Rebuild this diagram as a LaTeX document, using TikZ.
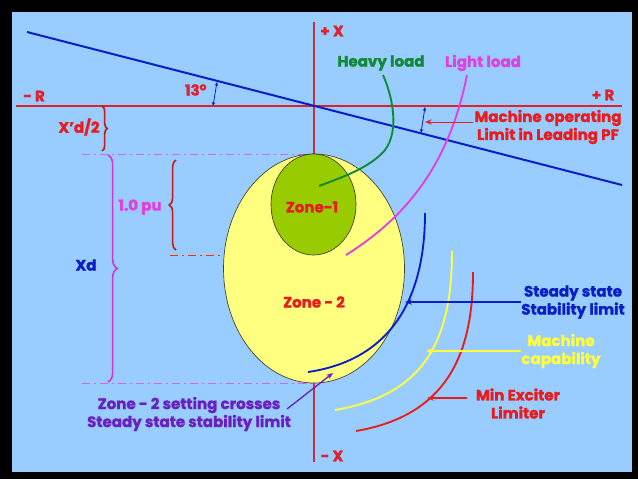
\documentclass[tikz,border=0pt]{standalone}
\usepackage{fontspec}
\setmainfont{Poppins}[BoldFeatures={FakeBold=1.5}]
\usetikzlibrary{decorations.pathreplacing,arrows.meta,shapes.geometric}
\definecolor{panel}{HTML}{99CCFF}
\definecolor{axR}{HTML}{E0202A}
\definecolor{axX}{HTML}{C03040}
\definecolor{lblue}{HTML}{0A1EC8}
\definecolor{hgreen}{HTML}{118833}
\definecolor{lmag}{HTML}{E040E0}
\definecolor{tred}{HTML}{E81C1C}
\definecolor{zyel}{HTML}{FFFF80}
\definecolor{zgreen}{HTML}{99CC00}
\definecolor{cyel}{HTML}{FFFF40}
\definecolor{tpurp}{HTML}{6A1FC0}
\definecolor{dviol}{HTML}{CC66FF}
\begin{document}
\begin{tikzpicture}[x=0.75pt,y=-0.75pt,
  font=\bfseries\fontsize{11.3}{13.5}\selectfont,
  lbl/.style={inner sep=0pt,align=center},
  curve/.style={line width=1.4pt},
  tip/.style={-{Stealth[length=5pt,width=4pt]},line width=1pt},
  dim/.style={{Stealth[length=3pt,width=2.5pt]}-{Stealth[length=3pt,width=2.5pt]},line width=0.6pt,lblue},
  ddash/.style={line width=0.7pt,dash pattern=on 6pt off 3pt on 1.5pt off 3pt},
  brc/.style={decorate,line width=1.2pt}]
\useasboundingbox (0,0) rectangle (638,479);
\fill[black] (0,0) rectangle (638,479);
\fill[panel] (12,12) rectangle (632,472);

% axes
\coordinate (xt) at (314,22);
\coordinate (xb) at (314,462);
\coordinate (rl) at (16,106);
\coordinate (rr) at (622,106);
\draw[axX,line width=1pt] (xt) -- (xb);
\draw[axR,line width=1.3pt] (rl) -- (rr);

% leading PF limit line
\coordinate (bl1) at (27,32);
\coordinate (bl2) at (622,185);
\draw[lblue,line width=1.5pt] (bl1) -- (bl2);

% dash-dot guides
\coordinate (d1a) at (82,154); \coordinate (d1b) at (312,154);
\coordinate (d2a) at (170,255); \coordinate (d2b) at (312,255);
\coordinate (d3a) at (82,383); \coordinate (d3b) at (314,383);
\draw[ddash,dviol] (d1a) -- (d1b);
\draw[ddash,tred!80!orange] (d2a) -- (d2b);
\draw[ddash,dviol] (d3a) -- (d3b);

% zones
\node[draw=black!70!olive,line width=0.5pt,fill=zyel,ellipse,minimum width=135.75pt,minimum height=171.75pt,inner sep=0pt] (z2) at (314,268.5) {};
\node[draw=black!70!olive,line width=0.5pt,fill=zgreen,ellipse,minimum width=63.75pt,minimum height=75.75pt,inner sep=0pt] (z1) at (313.5,204.5) {};
\node[lbl,tred] (z1t) at (312,207) {Zone-1};
\node[lbl,tred] (z2t) at (314,302) {Zone - 2};

% labels
\node[lbl,axR] (px) at (332,31) {+ X};
\node[lbl,axR] (mx) at (332,456) {- X};
\node[lbl,axR] (mr) at (34,96) {- R};
\node[lbl,axR] (pr) at (603,95) {+ R};
\node[lbl,axR] (ang) at (196,90) {13\textsuperscript{o}};
\node[lbl,tred] (xdh) at (79,127) {X’d/2};
\node[lbl,lmag] (pu) at (140,207) {1.0 pu};
\node[lbl,lblue] (xd) at (86,265) {Xd};
\node[lbl,hgreen] (hl) at (381,63) {Heavy load};
\node[lbl,lmag] (ll) at (483,63) {Light load};
\node[lbl,tred] (mol) at (548,127) {Machine operating\\Limit in Leading PF};
\node[lbl,lblue] (ssl) at (573,302) {Steady state\\Stability limit};
\node[lbl,cyel] (mc) at (561,351) {Machine\\capability};
\node[lbl,tred] (mel) at (518,403.5) {Min Exciter\\Limiter};
\node[lbl,tpurp] (zs) at (189,414) {Zone - 2 setting crosses\\Steady state stability limit};

% braces
\coordinate (b1a) at (102,106); \coordinate (b1b) at (102,151);
\coordinate (b2a) at (108,155); \coordinate (b2b) at (108,382);
\coordinate (b3a) at (176,250); \coordinate (b3b) at (176,160);
\draw[brc,tred!85!black,decoration={brace,amplitude=4pt}] (b1a) -- (b1b);
\draw[brc,lmag!85!violet,decoration={brace,amplitude=7pt}] (b2a) -- (b2b);
\draw[brc,tred!85!black,decoration={brace,amplitude=5pt}] (b3a) -- (b3b);

% angle dimension arrows
\coordinate (a1a) at (217,82); \coordinate (a1b) at (213,106);
\coordinate (a2a) at (425,107); \coordinate (a2b) at (421,133);
\draw[dim] (a1a) -- (a1b);
\draw[dim] (a2a) -- (a2b);

% load curves
\coordinate (hle) at (319,186);
\coordinate (lle) at (346,255);
\draw[curve,hgreen] (383,75) .. controls (392,95) and (400,130) .. (385,150) .. controls (370,168) and (340,178) .. (hle);
\draw[curve,lmag] (467,75) .. controls (450,160) and (410,215) .. (lle);

% stability / capability / exciter curves
\coordinate (s1) at (425,213); \coordinate (s2) at (308,372);
\coordinate (c1) at (452,251); \coordinate (c2) at (335,410);
\coordinate (e1) at (473,272); \coordinate (e2) at (356,431);
\draw[curve,lblue] (s1) .. controls (425,300) and (390,360) .. (s2);
\draw[curve,cyel] (c1) .. controls (452,340) and (425,395) .. (c2);
\draw[curve,tred] (e1) .. controls (473,350) and (450,415) .. (e2);

% pointer arrows
\coordinate (mop) at (425,122); \coordinate (mos) at (473,122);
\coordinate (ssp) at (405,302);
\coordinate (mcp) at (426,351);
\coordinate (mes) at (467,398); \coordinate (mep) at (427,398);
\coordinate (zsa) at (287,409); \coordinate (zsp) at (333,373);
\draw[tip,tred,line width=0.7pt] (mos) -- (mop);
\draw[tip,lblue] (ssl.west) -- (ssp);
\draw[tip,cyel] (mc.west) -- (mcp);
\draw[tip,tred,line width=1.3pt] (mes) -- (mep);
\draw[tip,tpurp] (zsa) -- (zsp);
\end{tikzpicture}
\end{document}
